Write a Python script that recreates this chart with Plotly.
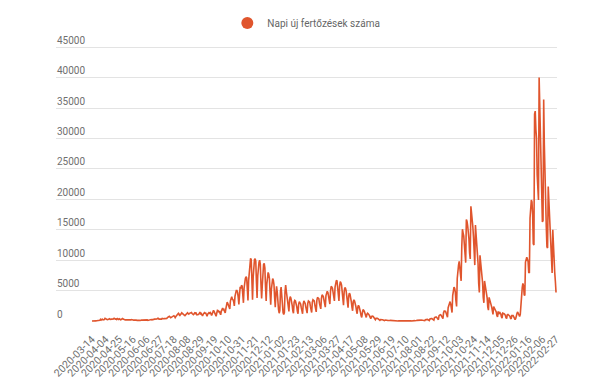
import plotly.graph_objects as go
import pandas as pd

series_name = "Napi új fertőzések száma"
line_color = "#e0552d"

# Daily new cases, one list per calendar month
mar_2020 = [22, 8, 29, 45, 29, 31, 31, 59, 66, 143, 186, 144, 123, 277, 160, 263, 308, 193]
apr_2020 = [220, 250, 445, 337, 300, 263, 236, 292, 382, 378, 290, 287, 287, 333, 309, 357, 456, 286, 311, 349,
            257, 417, 364, 274, 384, 265, 223, 272, 334, 412]
may_2020 = [327, 263, 222, 190, 228, 216, 276, 278, 260, 195, 155, 190, 199, 247, 164, 181, 166, 190, 123, 175,
            161, 124, 149, 169, 117, 145, 109, 186, 163, 161, 177]
jun_2020 = [103, 137, 162, 237, 209, 206, 192, 112, 155, 172, 234, 182, 253, 206, 215, 173, 278, 320, 331, 254,
            252, 331, 460, 455, 325, 320, 315, 299, 317, 430]
jul_2020 = [338, 389, 397, 418, 344, 341, 433, 555, 614, 698, 777, 662, 549, 621, 714, 698, 767, 889, 777, 577,
            744, 872, 1030, 1112, 1284, 1137, 842, 1104, 1151, 1356, 1295]
aug_2020 = [1183, 1072, 982, 902, 1053, 1130, 1344, 1378, 1215, 1145, 1271, 1373, 1454, 1415, 1241, 1200, 1054,
            1159, 1340, 1256, 1409, 1060, 1032, 1051, 1150, 1201, 1504, 1201, 1270, 1060, 859]
sep_2020 = [1101, 1304, 1386, 1294, 1311, 1089, 802, 1136, 1393, 1380, 1281, 1395, 1213, 924, 1189, 1713, 1767,
            1564, 1379, 1189, 800, 1333, 1767, 1719, 1438, 1682, 1300, 1036, 1624, 1785]
oct_2020 = [2158, 1767, 1888, 1591, 1356, 2062, 2958, 3130, 2889, 2616, 2164, 1991, 3334, 4016, 4013, 3586, 3517,
            3186, 2500, 4053, 4848, 5028, 5032, 4733, 3887, 2751, 4341, 5639, 5343, 5878, 5753]
nov_2020 = [4600, 3000, 5400, 6700, 7000, 7300, 7100, 5300, 3400, 6700, 8100, 9500, 10300, 10100, 6900, 3500,
            7200, 9200, 10100, 10269, 9800, 6500, 3800, 7400, 9100, 9700, 10000, 9300, 6000, 3700]
dec_2020 = [5800, 7900, 9300, 9500, 8700, 5600, 3300, 6100, 7500, 8000, 7700, 7000, 4700, 2700, 5200, 6500, 7000,
            6700, 6000, 3900, 2300, 4500, 5700, 4800, 2900, 1900, 1300, 1700, 4900, 5600, 4200]
jan_2021 = [2300, 1400, 1100, 1400, 4800, 5900, 4900, 4100, 3100, 2000, 1600, 3500, 4000, 3800, 3400, 2600, 1700,
            1300, 3100, 3400, 3300, 3000, 2400, 1600, 1200, 2800, 3200, 3000, 2800, 2200, 1500]
feb_2021 = [1200, 2800, 3300, 3100, 2900, 2300, 1600, 1300, 2900, 3300, 3200, 3100, 2400, 1700, 1400, 3100, 3500,
            3400, 3300, 2600, 1800, 1500, 3400, 3900, 3800, 3700, 2900, 2000]
mar_2021 = [2000, 3700, 4300, 4200, 4000, 3500, 2600, 2300, 4200, 4900, 4900, 4700, 4000, 3000, 2800, 4900, 5700,
            5600, 5400, 4500, 3500, 3300, 5600, 6400, 6700, 6600, 5300, 3900, 3300, 5700, 6500]
apr_2021 = [6300, 5900, 4800, 3200, 2600, 4800, 5500, 5400, 5000, 4000, 2900, 2200, 4100, 4600, 4400, 4000, 3200,
            2300, 1700, 3200, 3500, 3300, 3000, 2400, 1700, 1200, 2300, 2600, 2400, 2100]
may_2021 = [1500, 900, 600, 1300, 1900, 1800, 1600, 1300, 800, 600, 1100, 1300, 1200, 1100, 900, 600, 400, 750,
            850, 800, 700, 550, 350, 230, 450, 500, 450, 400, 310, 200, 120]
jun_2021 = [230, 260, 240, 210, 170, 110, 70, 150, 170, 150, 130, 100, 70, 40, 100, 110, 95, 85, 70, 45, 25, 70,
            80, 70, 60, 50, 30, 20, 55, 60]
jul_2021 = [55, 50, 40, 25, 15, 50, 55, 50, 45, 40, 25, 15, 50, 60, 55, 55, 45, 30, 20, 60, 75, 70, 75, 60, 25,
            90, 110, 100, 105, 90]
aug_2021 = [60, 40, 150, 170, 160, 170, 140, 90, 60, 220, 280, 260, 270, 220, 150, 90, 350, 420, 400, 410, 340,
            220, 150, 560, 680, 650, 660, 560, 330, 230, 900]
sep_2021 = [1100, 1050, 1000, 850, 550, 400, 1400, 1650, 1600, 1600, 1350, 900, 650, 2200, 2700, 3000, 3200, 2800,
            1900, 1400, 4200, 5200, 5600, 5400, 4800, 3300, 2400, 7000, 8700, 9200]
oct_2021 = [9800, 8900, 7400, 6600, 12300, 15100, 14500, 14000, 12500, 10600, 9600, 16700, 16400, 15700, 15000,
            13500, 11200, 10200, 18863, 18000, 16500, 15500, 13800, 10400, 9200, 15800, 14300, 12500, 11000, 9500,
            6200]
nov_2021 = [4700, 10800, 9800, 8400, 7400, 6300, 3900, 3000, 6600, 6000, 5200, 4500, 3800, 2300, 1800, 3900, 3600,
            3100, 2700, 2300, 1400, 1100, 2400, 2200, 1900, 1700, 1500, 900, 700, 1600]
dec_2021 = [1100, 1500, 1400, 1200, 700, 500, 1300, 1300, 1200, 1100, 950, 550, 400, 1050, 1100, 1000, 950, 800,
            450, 350, 900, 950, 900, 700, 400, 250, 450, 1100, 1300, 1500, 1200]
jan_2022 = [1000, 750, 1100, 3200, 4300, 5500, 6200, 5800, 4300, 4200, 9700, 10400, 10500, 10200, 9800, 8000, 7900,
            16900, 19200, 19900, 19600, 17600, 12700, 12500, 34000, 34500, 31500, 30000, 24000, 20500, 19900]
feb_2022 = [40018, 35000, 30600, 26500, 21000, 16300, 16500, 36400, 29000, 22500, 20000, 15500, 12200, 12000,
            22100, 19500, 16000, 13500, 10500, 8000, 7900, 15000, 11400, 9500, 8000, 6500, 4700]

month_starts = ["2020-03-14", "2020-04-01", "2020-05-01", "2020-06-01", "2020-07-01", "2020-08-01",
                "2020-09-01", "2020-10-01", "2020-11-01", "2020-12-01", "2021-01-01", "2021-02-01",
                "2021-03-01", "2021-04-01", "2021-05-01", "2021-06-01", "2021-07-01", "2021-08-01",
                "2021-09-01", "2021-10-01", "2021-11-01", "2021-12-01", "2022-01-01", "2022-02-01"]
month_values = [mar_2020, apr_2020, may_2020, jun_2020, jul_2020, aug_2020, sep_2020, oct_2020, nov_2020,
                dec_2020, jan_2021, feb_2021, mar_2021, apr_2021, may_2021, jun_2021, jul_2021, aug_2021,
                sep_2021, oct_2021, nov_2021, dec_2021, jan_2022, feb_2022]
missing_day = "2021-07-25"

tick_labels = ["2020-03-14", "2020-04-04", "2020-04-25", "2020-05-16", "2020-06-06", "2020-06-27",
               "2020-07-18", "2020-08-08", "2020-08-29", "2020-09-19", "2020-10-10", "2020-10-31",
               "2020-11-21", "2020-12-12", "2021-01-02", "2021-01-23", "2021-02-13", "2021-03-06",
               "2021-03-27", "2021-04-17", "2021-05-08", "2021-05-29", "2021-06-19", "2021-07-10",
               "2021-08-01", "2021-08-22", "2021-09-12", "2021-10-03", "2021-10-24", "2021-11-14",
               "2021-12-05", "2021-12-26", "2022-01-16", "2022-02-06", "2022-02-27"]
y_ticks = [0, 5000, 10000, 15000, 20000, 25000, 30000, 35000, 40000, 45000]

dates, cases = [], []
for start, vals in zip(month_starts, month_values):
    d = pd.Timestamp(start)
    for v in vals:
        if d.strftime("%Y-%m-%d") == missing_day:
            d += pd.Timedelta(days=1)
        dates.append(d.strftime("%Y-%m-%d"))
        cases.append(v)
        d += pd.Timedelta(days=1)

n = len(dates)

fig = go.Figure()
fig.add_trace(go.Scatter(x=dates, y=cases, mode="lines", line=dict(color=line_color, width=1.6),
                         showlegend=False, name=series_name))
fig.add_trace(go.Scatter(x=[None], y=[None], mode="markers", name=series_name,
                         marker=dict(color=line_color, size=12, symbol="circle")))

fig.update_layout(
    width=605, height=377,
    margin=dict(l=48, r=56, t=24, b=63, autoexpand=False),
    paper_bgcolor="white", plot_bgcolor="white",
    font=dict(family="Roboto, Arial, sans-serif", size=10, color="#6f6f6f"),
    showlegend=True,
    legend=dict(orientation="h", x=0.342, xanchor="left", y=1.031, yanchor="middle",
                font=dict(size=10, color="#666666"), bgcolor="rgba(0,0,0,0)"),
    xaxis=dict(type="category", categoryorder="array", categoryarray=dates, automargin=False,
               range=[-55.4, n - 1 + 1.5], tickmode="array", tickvals=tick_labels, ticktext=tick_labels,
               tickangle=-45, showgrid=False, zeroline=False, showline=False, ticks="",
               ticklabelstandoff=8, tickfont=dict(size=10.5, color="#6f6f6f")),
    yaxis=dict(range=[-150, 47500], tickmode="array", tickvals=y_ticks, automargin=False,
               ticktext=[str(v) for v in y_ticks], showgrid=True, gridcolor="#e3e3e3", gridwidth=1,
               zeroline=False, showline=False, ticks="", ticklabelposition="inside top",
               ticklabelstandoff=-2, tickfont=dict(size=10, color="#6f6f6f")),
)

fig.write_html("out.html")
